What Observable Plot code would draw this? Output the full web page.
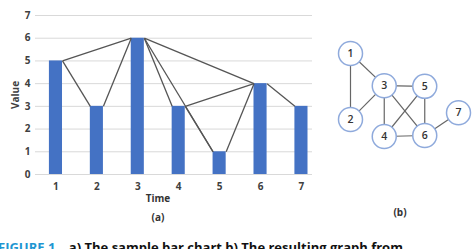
<!DOCTYPE html>
<html>
<head>
<meta charset="utf-8">
<script src="https://cdn.jsdelivr.net/npm/d3@7"></script>
<script src="https://cdn.jsdelivr.net/npm/@observablehq/plot@0.6"></script>
<style>
  html, body { margin: 0; padding: 0; background: #fff; }
  #wrap { position: relative; width: 474px; height: 249px; overflow: hidden; background: #fff; }
  #wrap svg { position: absolute; }
  .lbl { position: absolute; font-family: "Open Sans", sans-serif; font-weight: 700; color: #333; font-size: 10px; white-space: nowrap; transform: translateX(-50%); }
  #caption { position: absolute; left: -2px; top: 240px; font-family: "Open Sans", sans-serif; font-weight: 700; font-size: 13px; line-height: 15px; color: #111; white-space: nowrap; }
  #caption .fig { color: #1e96d2; }
</style>
</head>
<body>
<div id="wrap">
  <div id="chartA"></div>
  <div id="chartB"></div>
  <div class="lbl" style="left:158px; top:191px;">Time</div>
  <div class="lbl" style="left:158px; top:210px;">(a)</div>
  <div class="lbl" style="left:400px; top:205px;">(b)</div>
  <div id="caption"><span class="fig">FIGURE 1</span>&nbsp;&nbsp;&nbsp;&nbsp;a) The sample bar chart b) The resulting graph from</div>
</div>
<script>
// Data
const times = [1, 2, 3, 4, 5, 6, 7];
const values = [5, 3, 6, 3, 1, 4, 3];
const yTicks = [0, 1, 2, 3, 4, 5, 6, 7];
// visibility edges (between time indices)
const edges = [[1,2],[1,3],[2,3],[3,4],[3,5],[3,6],[4,5],[4,6],[5,6],[6,7]];
// graph (b) node layout
const nodeIds = [1, 2, 3, 4, 5, 6, 7];
const nodeX = [0, 0, 1, 1, 2.2, 2.2, 3.2];
const nodeY = [0, 1.95, 0.95, 2.45, 0.97, 2.42, 1.75];

const bars = times.map((t, i) => ({t, v: values[i]}));
const hw = 0.16; // half bar width in time units

const font = "Open Sans, sans-serif";

const chartA = Plot.plot({
  width: 330,
  height: 225,
  marginLeft: 35,
  marginRight: 18,
  marginTop: 15,
  marginBottom: 51,
  style: {fontFamily: font, fontSize: "10px", fontWeight: 700, color: "#404040", background: "transparent"},
  x: {domain: [0.5, 7.27], ticks: times, tickFormat: d => String(d), tickSize: 0, tickPadding: 8, label: null},
  y: {domain: [0, 7], ticks: yTicks, tickFormat: d => String(d), tickSize: 0, tickPadding: 5, label: "Value", labelAnchor: "center", labelOffset: 24, labelArrow: "none"},
  marks: [
    Plot.gridY(yTicks, {stroke: "#d9d9d9", strokeOpacity: 1, strokeWidth: 1}),
    Plot.rectY(bars, {x1: d => d.t - hw, x2: d => d.t + hw, y1: 0, y2: "v", fill: "#4472c4"}),
    Plot.link(edges, {
      x1: e => e[0] + hw, y1: e => values[e[0] - 1],
      x2: e => e[1] - hw, y2: e => values[e[1] - 1],
      stroke: "#555", strokeWidth: 1.3
    })
  ]
});
chartA.style.left = "0px";
chartA.style.top = "0px";
document.getElementById("chartA").appendChild(chartA);

const nodes = nodeIds.map((id, i) => ({id, x: nodeX[i], y: nodeY[i]}));
const chartB = Plot.plot({
  width: 154,
  height: 160,
  marginLeft: 30,
  marginRight: 16,
  marginTop: 53,
  marginBottom: 24,
  style: {fontFamily: font, background: "transparent"},
  x: {domain: [0, 3.2], axis: null},
  y: {domain: [0, 2.45], reverse: true, axis: null},
  marks: [
    Plot.link(edges, {
      x1: e => nodeX[e[0] - 1], y1: e => nodeY[e[0] - 1],
      x2: e => nodeX[e[1] - 1], y2: e => nodeY[e[1] - 1],
      stroke: "#666", strokeWidth: 1.2
    }),
    Plot.dot(nodes, {x: "x", y: "y", r: 12, fill: "white", stroke: "#8faadc", strokeWidth: 1.5}),
    Plot.text(nodes, {x: "x", y: "y", text: d => String(d.id), fill: "#333", fontSize: 10.5, fontWeight: 600})
  ]
});
chartB.style.left = "320px";
chartB.style.top = "0px";
document.getElementById("chartB").appendChild(chartB);
</script>
</body>
</html>
